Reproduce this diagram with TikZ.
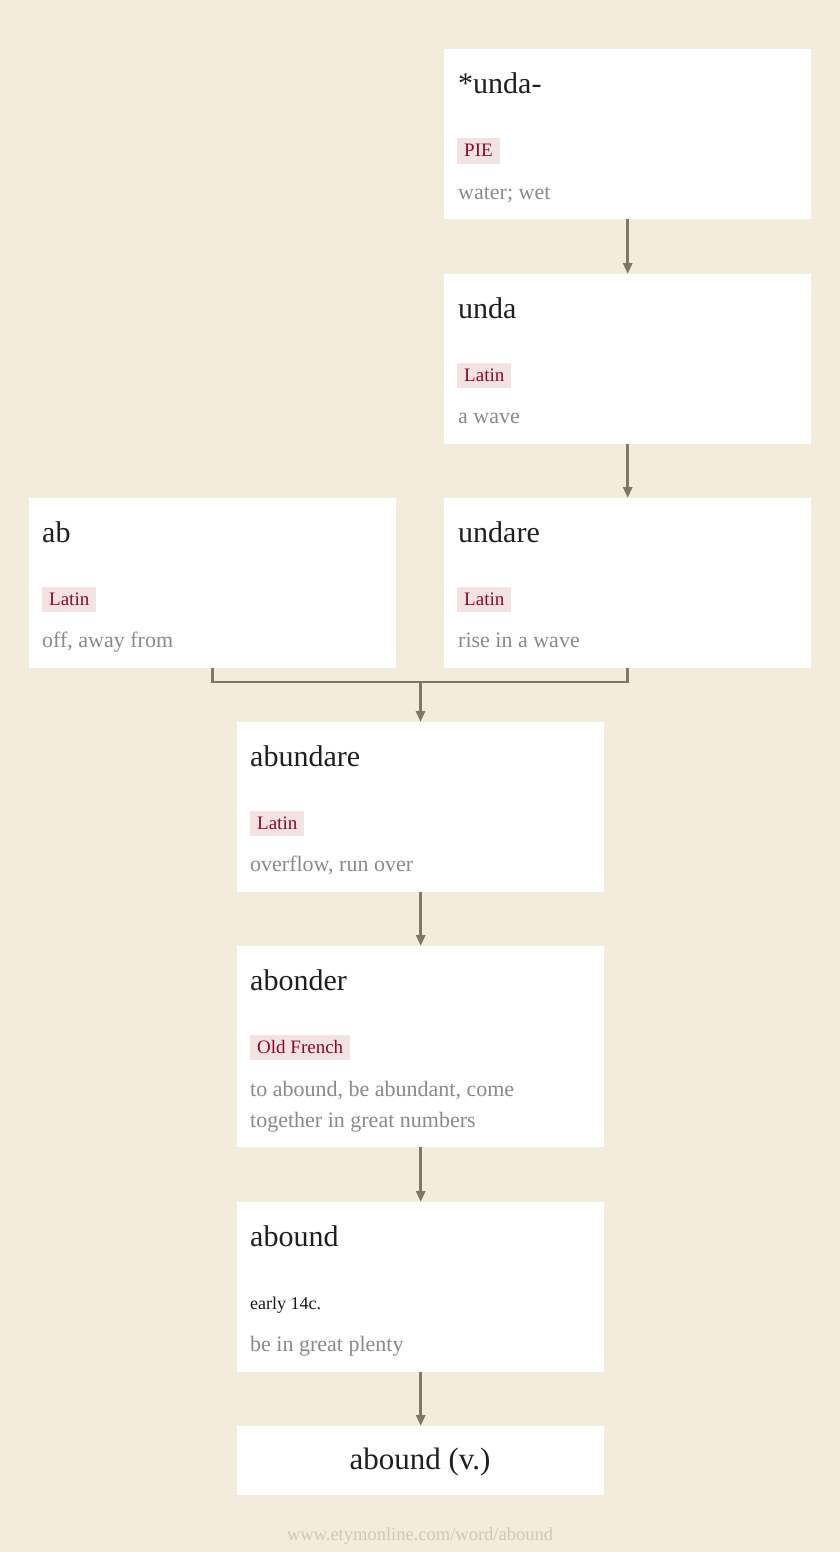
\documentclass[tikz,border=0pt]{standalone}
\usepackage{fontspec}
\setmainfont{Liberation Serif}
\usepackage{tikz}
\usetikzlibrary{arrows.meta}
\definecolor{paper}{HTML}{F3ECDC}
\definecolor{wire}{HTML}{7D7767}
\definecolor{gloss}{HTML}{8A8A8A}
\definecolor{tagbg}{HTML}{F2E2E2}
\definecolor{tagfg}{HTML}{8B0A2A}
\definecolor{foot}{HTML}{CFC8B8}

\begin{document}
\begin{tikzpicture}[x=1pt,y=-1pt,
    box/.style={fill=white,inner sep=0pt,anchor=north west,minimum width=367pt},
    head/.style={anchor=base west,inner sep=0pt,text=black!88,font=\fontsize{30}{34}\selectfont},
    tag/.style={anchor=base west,fill=tagbg,text=tagfg,inner xsep=7pt,inner ysep=0pt,
      text height=18.5pt,text depth=6.5pt,font=\fontsize{19}{22}\selectfont},
    sense/.style={anchor=base west,inner sep=0pt,text=gloss,font=\fontsize{22}{25}\selectfont},
    wireline/.style={draw=wire,line width=2.8pt},
    arr/.style={wireline,-{Triangle[length=11pt,width=9pt]}}]
    \fill[paper] (0,0) rectangle (840,1552);
    \useasboundingbox (0,0) rectangle (840,1552);
    \node[box,minimum height=170pt] (pie) at (444,49) {};
    \node[box,minimum height=170pt] (unda) at (444,274) {};
    \node[box,minimum height=170pt] (ab) at (29,498) {};
    \node[box,minimum height=170pt] (undare) at (444,498) {};
    \node[box,minimum height=170pt] (abundare) at (237,722) {};
    \node[box,minimum height=201pt] (abonder) at (237,946) {};
    \node[box,minimum height=170pt] (abound) at (237,1202) {};
    \node[box,minimum height=69pt] (aboundv) at (237,1426) {};
    \node[head] (h1) at (458,94) {*unda-};
    \node[tag] (t1) at (457,157) {PIE};
    \node[sense] (s1) at (458,199) {water; wet};
    \node[head] (h2) at (458,318) {unda};
    \node[tag] (t2) at (457,381) {Latin};
    \node[sense] (s2) at (458,423) {a wave};
    \node[head] (h3) at (42,542) {ab};
    \node[tag] (t3) at (42,605) {Latin};
    \node[sense] (s3) at (42,647) {off, away from};
    \node[head] (h4) at (458,542) {undare};
    \node[tag] (t4) at (457,605) {Latin};
    \node[sense] (s4) at (458,647) {rise in a wave};
    \node[head] (h5) at (250,766) {abundare};
    \node[tag] (t5) at (250,829) {Latin};
    \node[sense] (s5) at (250,871) {overflow, run over};
    \node[head] (h6) at (250,990) {abonder};
    \node[tag] (t6) at (250,1053) {Old French};
    \node[sense] (s6) at (250,1096) {to abound, be abundant, come};
    \node[sense] (s7) at (250,1127) {together in great numbers};
    \node[head] (h7) at (250,1246) {abound};
    \node[anchor=base west,inner sep=0pt,text=black!90,font=\fontsize{18}{21}\selectfont] (d7) at (250,1309) {early 14c.};
    \node[sense] (s8) at (250,1351) {be in great plenty};
    \node[anchor=base,inner sep=0pt,text=black!88,font=\fontsize{31}{35}\selectfont] (h8) at (420,1469) {abound (v.)};
    \node[anchor=base,inner sep=0pt,text=foot,font=\fontsize{18.5}{21}\selectfont] (url) at (420,1540) {www.etymonline.com/word/abound};
    \coordinate (join) at (420.5,682);
    \draw[arr] (pie) -- (unda);
    \draw[arr] (unda) -- (undare);
    \draw[wireline] (ab.south) |- (join) -| (undare.south);
    \draw[arr] (join) -- (join |- abundare.north);
    \draw[arr] (abundare) -- (abonder);
    \draw[arr] (abonder) -- (abound);
    \draw[arr] (abound) -- (aboundv);
\end{tikzpicture}
\end{document}
